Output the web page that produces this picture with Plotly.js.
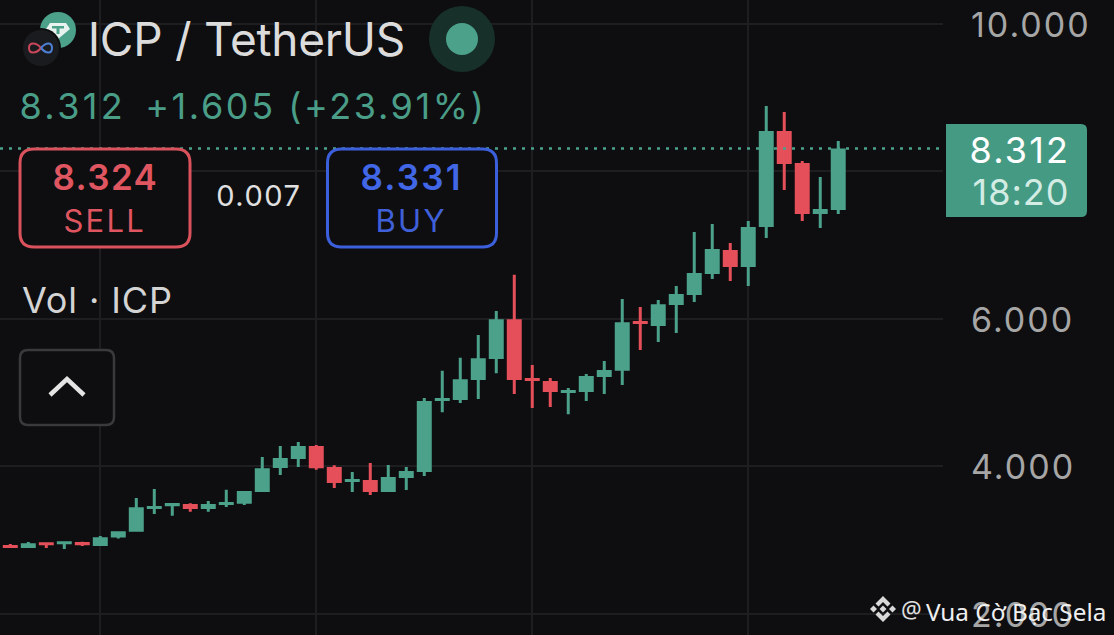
<!DOCTYPE html>
<html><head><meta charset="utf-8">
<script src="https://cdn.plot.ly/plotly-3.0.1.min.js"></script>
<style>html,body{margin:0;padding:0;background:#0e0e10;overflow:hidden}#c{width:1114px;height:635px}
.ytick text{letter-spacing:2px;translate:0 1px}
.annotation[data-index="0"] text{letter-spacing:-0.25px}
.annotation[data-index="1"] text{letter-spacing:3.4px}
.annotation[data-index="2"] text{letter-spacing:2.6px}
.annotation[data-index="3"] text{letter-spacing:1.4px}
.annotation[data-index="4"] text{letter-spacing:2.3px}
.annotation[data-index="5"] text{letter-spacing:1.5px}
.annotation[data-index="6"] text{letter-spacing:2.2px}
.annotation[data-index="7"] text{letter-spacing:2.4px}
.annotation[data-index="8"] text{letter-spacing:0.9px}
.annotation[data-index="9"] text{letter-spacing:2.2px}
.annotation[data-index="10"] text{letter-spacing:1px}
</style>
</head><body><div id="c"></div>
<script>
const openP=[2.916,2.915,2.952,2.965,2.956,2.942,3.056,3.137,3.444,3.482,3.472,3.444,3.498,3.516,3.674,4.000,4.122,4.258,3.973,3.810,3.797,3.674,3.864,3.945,4.908,4.922,5.193,5.478,5.976,5.180,5.139,5.017,5.030,5.234,5.319,5.953,5.925,6.210,6.345,6.630,6.916,6.725,7.267,8.529,8.095,7.444,7.498];
const highP=[2.949,2.976,2.972,2.986,2.980,3.058,3.121,3.573,3.695,3.501,3.501,3.532,3.685,3.668,4.129,4.278,4.332,4.292,4.016,3.925,4.047,4.020,3.993,4.929,5.299,5.475,5.783,6.108,6.601,5.376,5.200,5.064,5.254,5.431,6.271,6.163,6.258,6.447,7.180,7.288,7.031,7.329,8.888,8.807,8.142,7.925,8.414];
const lowP=[2.895,2.895,2.895,2.881,2.922,2.922,3.022,3.117,3.356,3.333,3.387,3.387,3.451,3.478,3.654,3.885,3.993,3.957,3.708,3.654,3.614,3.654,3.681,3.871,4.735,4.861,4.915,5.264,4.983,4.793,4.807,4.708,4.888,4.983,5.105,5.580,5.688,5.810,6.231,6.542,6.515,6.447,7.098,7.749,7.329,7.234,7.424];
const closeP=[2.915,2.939,2.951,2.966,2.952,3.020,3.101,3.427,3.445,3.483,3.444,3.472,3.499,3.648,3.956,4.095,4.258,3.996,3.796,3.811,3.674,3.838,3.919,4.868,4.909,5.162,5.447,5.976,5.193,5.179,5.030,5.018,5.207,5.288,5.935,5.952,6.179,6.319,6.604,6.929,6.725,7.227,8.529,8.122,7.444,7.472,8.292];
const candleIndex=openP.map((_,i)=>i);
const priceTicks=[2,4,6,8,10];
const priceLabels=['2.000','4.000','6.000','','10.000'];
const timeGrid=[5,17,29,41];
const lastPrice=8.312;

const GREEN='#4ba18a',RED='#e44f5a',BLUE='#3c5fdc',BG='#0e0e10',GRID='#1e1e20';
const PW=943,H=635;
const px=x=>x/PW, py=y=>1-y/H;
const P=(pts,close)=>'M'+pts.map(p=>px(p[0])+','+py(p[1])).join(' L')+(close?' Z':'');
function roundRect(x0,y0,x1,y1,r){
  const c=(x,y)=>px(x)+','+py(y);
  return 'M'+c(x0+r,y0)+' L'+c(x1-r,y0)+' Q'+c(x1,y0)+' '+c(x1,y0+r)+' L'+c(x1,y1-r)+' Q'+c(x1,y1)+' '+c(x1-r,y1)+' L'+c(x0+r,y1)+' Q'+c(x0,y1)+' '+c(x0,y1-r)+' L'+c(x0,y0+r)+' Q'+c(x0,y0)+' '+c(x0+r,y0)+' Z';
}
function shape(path,fill,line,w,layer){return {type:'path',xref:'paper',yref:'paper',path,fillcolor:fill||'rgba(0,0,0,0)',line:{color:line||'rgba(0,0,0,0)',width:w||0},layer:layer||'above'};}
function circle(cx,cy,r,fill){return {type:'circle',xref:'paper',yref:'paper',x0:px(cx-r),x1:px(cx+r),y0:py(cy+r),y1:py(cy-r),fillcolor:fill,line:{width:0},layer:'above'};}
function text(t,x,y,size,color,extra){
  return {text:t,xref:'paper',yref:'paper',x:px(x),y:py(y),xanchor:'center',yanchor:'middle',showarrow:false,borderpad:0,
    font:Object.assign({family:'Inter, sans-serif',size,color},extra||{})};
}
function tagPath(x0,y0,x1,y1,r){
  const c=(x,y)=>px(x)+','+py(y);
  return 'M'+c(x0,y0)+' L'+c(x1-r,y0)+' Q'+c(x1,y0)+' '+c(x1,y0+r)+' L'+c(x1,y1-r)+' Q'+c(x1,y1)+' '+c(x1-r,y1)+' L'+c(x0,y1)+' Z';
}
const infL=`M${px(41)},${py(48)} C${px(36)},${py(42)} ${px(29)},${py(42)} ${px(29)},${py(48)} C${px(29)},${py(54)} ${px(36)},${py(54)} ${px(41)},${py(48)}`;
const infR=`M${px(41)},${py(48)} C${px(46)},${py(42)} ${px(52)},${py(42)} ${px(52)},${py(48)} C${px(52)},${py(54)} ${px(46)},${py(54)} ${px(41)},${py(48)}`;
const bx=883,by=609,IC='#d8d8d8';
const shapes=[
  {type:'line',xref:'paper',yref:'y',x0:0,x1:1,y0:lastPrice,y1:lastPrice,line:{color:GREEN,width:2.5,dash:'3px,6px'},layer:'above'},
  circle(58,30,18,GREEN),
  shape(P([[50,23],[66,23],[70,29],[58,39],[46,29]],true),'#e8f3f0'),
  shape(P([[52,26],[64,26],[64,28.5],[59.5,28.5],[59.5,34],[56.5,34],[56.5,28.5],[52,28.5]],true),GREEN),
  circle(41,48,20,BG),
  circle(41,48,18,'#1a1b1e'),
  shape(infL,null,'#c9475a',2),
  shape(infR,null,'#4d7fd6',2),
  circle(462,39,33,'#17302a'),
  circle(462,39,16,GREEN),
  shape(roundRect(20,149,190,247,14),BG,'#d9525c',3),
  shape(roundRect(327.5,149,496.5,247,14),BG,BLUE,3),
  shape(roundRect(20,350,114,425,8),BG,'#3a3a3c',2.5),
  shape(P([[50,395],[67,379],[84,395]]),null,'#e4e4e4',4.5),
  shape(tagPath(946,124,1087,217,6),'#459a83'),
  shape(P([[bx,by-13],[bx+7.5,by-5.5],[bx+4.5,by-2.5],[bx,by-7],[bx-4.5,by-2.5],[bx-7.5,by-5.5]],true),IC),
  shape(P([[bx,by+13],[bx+7.5,by+5.5],[bx+4.5,by+2.5],[bx,by+7],[bx-4.5,by+2.5],[bx-7.5,by+5.5]],true),IC),
  shape(P([[bx,by-3.5],[bx+3.5,by],[bx,by+3.5],[bx-3.5,by]],true),IC),
  shape(P([[bx-13,by],[bx-9.5,by-3.5],[bx-6,by],[bx-9.5,by+3.5]],true),IC),
  shape(P([[bx+13,by],[bx+9.5,by-3.5],[bx+6,by],[bx+9.5,by+3.5]],true),IC)
];
const annotations=[
  text('ICP / TetherUS',246.5,39,46,'#dcdcdc'),
  text('8.312',73,106,36,'#4a9e88'),
  text('+1.605 (+23.91%)',316,106,36,'#4a9e88'),
  text('8.324',105,177,35,'#df5560',{weight:600}),
  text('SELL',105,220,31,'#df5560'),
  text('0.007',258.5,196,29,'#e0e0e0'),
  text('8.331',411,177,35,'#4166e6',{weight:600}),
  text('BUY',411,220,31,'#3f60d8'),
  text('Vol · ICP',97.5,300,36,'#d4d4d4'),
  text('8.312',1020.5,150,36,'#ffffff'),
  text('18:20',1021,192,36,'#d3ece4'),
  text('@',911.5,609,23,'#e0e0e0',{family:'Noto Sans, sans-serif'}),
  text('Vua Cờ Bạc Sela',1016,611,24.3,'#f0f0f0',{family:'Noto Sans, sans-serif'})
];
const trace={type:'candlestick',x:candleIndex,open:openP,high:highP,low:lowP,close:closeP,whiskerwidth:0,
  increasing:{line:{color:GREEN,width:3},fillcolor:GREEN},
  decreasing:{line:{color:RED,width:3},fillcolor:RED},hoverinfo:'skip',showlegend:false};
const layout={width:1114,height:635,margin:{l:0,r:171,t:0,b:0,pad:0},paper_bgcolor:BG,plot_bgcolor:BG,boxgap:0.05,
  showlegend:false,hovermode:false,dragmode:false,
  xaxis:{range:[-0.572,51.82],tickmode:'array',tickvals:timeGrid,ticktext:timeGrid.map(()=>''),showgrid:true,gridcolor:GRID,gridwidth:2,zeroline:false,showline:false,ticks:'',rangeslider:{visible:false},fixedrange:true},
  yaxis:{side:'right',range:[1.715,10.325],tickmode:'array',tickvals:priceTicks,ticktext:priceLabels,showgrid:true,gridcolor:GRID,gridwidth:2,zeroline:false,showline:false,ticks:'',ticklabelstandoff:27,ticklabeloverflow:'allow',
    tickfont:{family:'Inter, sans-serif',size:34,color:'#a6a6a6'},fixedrange:true},
  shapes,annotations};
Plotly.newPlot('c',[trace],layout,{displayModeBar:false,staticPlot:true});
</script></body></html>
